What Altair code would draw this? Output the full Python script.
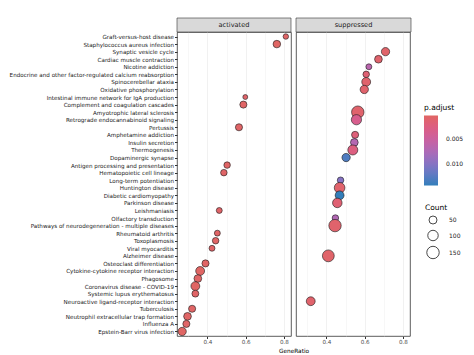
import altair as alt
import pandas as pd

terms = [
    "Graft-versus-host disease", "Staphylococcus aureus infection", "Synaptic vesicle cycle",
    "Cardiac muscle contraction", "Nicotine addiction",
    "Endocrine and other factor-regulated calcium reabsorption", "Spinocerebellar ataxia",
    "Oxidative phosphorylation", "Intestinal immune network for IgA production",
    "Complement and coagulation cascades", "Amyotrophic lateral sclerosis",
    "Retrograde endocannabinoid signaling", "Pertussis", "Amphetamine addiction",
    "Insulin secretion", "Thermogenesis", "Dopaminergic synapse",
    "Antigen processing and presentation", "Hematopoietic cell lineage",
    "Long-term potentiation", "Huntington disease", "Diabetic cardiomyopathy",
    "Parkinson disease", "Leishmaniasis", "Olfactory transduction",
    "Pathways of neurodegeneration - multiple diseases", "Rheumatoid arthritis",
    "Toxoplasmosis", "Viral myocarditis", "Alzheimer disease", "Osteoclast differentiation",
    "Cytokine-cytokine receptor interaction", "Phagosome", "Coronavirus disease - COVID-19",
    "Systemic lupus erythematosus", "Neuroactive ligand-receptor interaction", "Tuberculosis",
    "Neutrophil extracellular trap formation", "Influenza A", "Epstein-Barr virus infection",
]

act_terms = [
    "Graft-versus-host disease", "Staphylococcus aureus infection",
    "Intestinal immune network for IgA production", "Complement and coagulation cascades",
    "Pertussis", "Antigen processing and presentation", "Hematopoietic cell lineage",
    "Leishmaniasis", "Rheumatoid arthritis", "Toxoplasmosis", "Viral myocarditis",
    "Osteoclast differentiation", "Cytokine-cytokine receptor interaction", "Phagosome",
    "Coronavirus disease - COVID-19", "Systemic lupus erythematosus", "Tuberculosis",
    "Neutrophil extracellular trap formation", "Influenza A", "Epstein-Barr virus infection",
]
act_ratio = [0.81, 0.763, 0.598, 0.588, 0.565, 0.503, 0.486, 0.462, 0.452, 0.443, 0.424,
             0.39, 0.362, 0.35, 0.337, 0.337, 0.32, 0.296, 0.29, 0.268]
act_count = [12, 42, 6, 35, 35, 26, 26, 18, 18, 26, 18, 35, 66, 45, 66, 32, 35, 45, 35, 55]
act_padj = [0.0006, 0.0004, 0.0008, 0.0005, 0.0006, 0.0005, 0.0006, 0.0007, 0.0006, 0.0005,
            0.0007, 0.0005, 0.0004, 0.0005, 0.0004, 0.0006, 0.0005, 0.0005, 0.0006, 0.0004]

sup_terms = [
    "Synaptic vesicle cycle", "Cardiac muscle contraction", "Nicotine addiction",
    "Endocrine and other factor-regulated calcium reabsorption", "Spinocerebellar ataxia",
    "Oxidative phosphorylation", "Amyotrophic lateral sclerosis",
    "Retrograde endocannabinoid signaling", "Amphetamine addiction", "Insulin secretion",
    "Thermogenesis", "Dopaminergic synapse", "Long-term potentiation", "Huntington disease",
    "Diabetic cardiomyopathy", "Parkinson disease", "Olfactory transduction",
    "Pathways of neurodegeneration - multiple diseases", "Alzheimer disease",
    "Neuroactive ligand-receptor interaction",
]
sup_ratio = [0.709, 0.672, 0.622, 0.608, 0.608, 0.598, 0.564, 0.557, 0.55, 0.546,
             0.538, 0.503, 0.474, 0.469, 0.469, 0.457, 0.447, 0.445, 0.41, 0.318]
sup_count = [55, 45, 18, 26, 66, 55, 150, 95, 35, 45, 90, 55, 26, 105, 66, 80, 26, 150, 135, 66]
sup_padj = [0.0008, 0.0010, 0.0065, 0.0015, 0.0010, 0.0010, 0.0010, 0.0035, 0.0020, 0.0070,
            0.0025, 0.0130, 0.0100, 0.0010, 0.0143, 0.0015, 0.0072, 0.0010, 0.0008, 0.0010]

df = pd.concat([
    pd.DataFrame({"group": "activated", "Description": act_terms, "GeneRatio": act_ratio,
                  "Count": act_count, "padj": act_padj}),
    pd.DataFrame({"group": "suppressed", "Description": sup_terms, "GeneRatio": sup_ratio,
                  "Count": sup_count, "padj": sup_padj}),
], ignore_index=True)

H = 304
FONT = "DejaVu Sans"
minor_test = "round(datum.value*10) % 2 == 1"
LX = 247  # legend x relative to left panel's plot origin


def panel(group, width, first):
    base = alt.Chart(df).transform_filter(alt.datum.group == group).transform_calculate(
        negp="-datum.padj")
    x_axis = alt.Axis(
        values=[0.3, 0.4, 0.5, 0.6, 0.7, 0.8],
        labelExpr="round(datum.value*10) % 2 == 0 ? format(datum.value, '.1f') : ''",
        tickOpacity={"condition": {"test": minor_test, "value": 0}, "value": 1},
        gridWidth={"condition": {"test": minor_test, "value": 0.4}, "value": 0.7},
        gridColor="#EBEBEB", domain=False, tickColor="#333333", tickSize=2.5,
        labelFontSize=5.6, labelColor="#4D4D4D", labelFont=FONT, labelPadding=1,
        title="GeneRatio" if first else None,
        titleFontSize=5.8, titleFont=FONT, titleFontWeight="normal", titleColor="#000000",
        titleX=width + 2.5, titleAlign="center", titlePadding=2,
    )
    if first:
        y_axis = alt.Axis(title=None, domain=False, tickColor="#333333", tickSize=2.5,
                          labelFontSize=5.6, labelColor="#1A1A1A", labelFont=FONT,
                          labelPadding=1, gridColor="#EBEBEB", gridWidth=0.7, labelLimit=400)
    else:
        y_axis = alt.Axis(title=None, domain=False, ticks=False, labels=False,
                          gridColor="#EBEBEB", gridWidth=0.7)
    pts = base.mark_circle(stroke="#1A1A1A", strokeWidth=0.6, opacity=1).encode(
        x=alt.X("GeneRatio:Q", scale=alt.Scale(domain=[0.241, 0.837], nice=False, zero=False),
                axis=x_axis),
        y=alt.Y("Description:N", sort=terms,
                scale=alt.Scale(type="point", domain=terms, padding=0.6), axis=y_axis),
        color=alt.Color("negp:Q",
                        scale=alt.Scale(domain=[-0.0143, -0.0003], range=["#327eba", "#e06663"]),
                        legend=alt.Legend(title="p.adjust", orient="none", legendX=LX,
                                          legendY=72, gradientLength=70, gradientThickness=14,
                                          values=[-0.005, -0.010],
                                          labelExpr="format(-datum.value, '.3f')",
                                          titleFontSize=7.5, labelFontSize=6, titleFont=FONT,
                                          labelFont=FONT, titleFontWeight="normal",
                                          labelColor="#1A1A1A", titleColor="#000000",
                                          gradientStrokeWidth=0, direction="vertical",
                                          padding=0, titlePadding=4, labelOffset=8)),
        size=alt.Size("Count:Q", scale=alt.Scale(domain=[50, 150], range=[64, 154]),
                      legend=alt.Legend(title="Count", orient="none", legendX=LX + 1, legendY=172,
                                        values=[50, 100, 150], symbolFillColor="white",
                                        symbolStrokeColor="#1A1A1A", symbolStrokeWidth=0.8,
                                        titleFontSize=7.5, labelFontSize=6, titleFont=FONT,
                                        labelFont=FONT, titleFontWeight="normal",
                                        labelColor="#1A1A1A", titleColor="#000000",
                                        padding=0, titlePadding=4, labelOffset=9,
                                        symbolOffset=1)),
    )
    strip_df = pd.DataFrame({"label": [group]})
    strip = alt.Chart(strip_df).mark_rect(fill="#D9D9D9", stroke="#333333", strokeWidth=0.6).encode(
        x=alt.value(0), x2=alt.value(width), y=alt.value(-14), y2=alt.value(0))
    strip_txt = alt.Chart(strip_df).mark_text(fontSize=6.6, font=FONT, color="#1A1A1A",
                                              baseline="middle", align="center").encode(
        x=alt.value(width / 2), y=alt.value(-7), text="label:N")
    return alt.layer(strip, strip_txt, pts).properties(width=width, height=H)


chart = alt.hconcat(panel("activated", 114, True), panel("suppressed", 115, False), spacing=5,
                    bounds="flush"
                    ).resolve_scale(color="shared", size="shared", y="shared", x="shared"
                    ).properties(padding={"left": 0, "top": 9, "right": 0, "bottom": 0}
                    ).configure_view(stroke="#333333", strokeWidth=0.8)

chart.save("out.html", embed_options={"renderer": "svg", "actions": False})
